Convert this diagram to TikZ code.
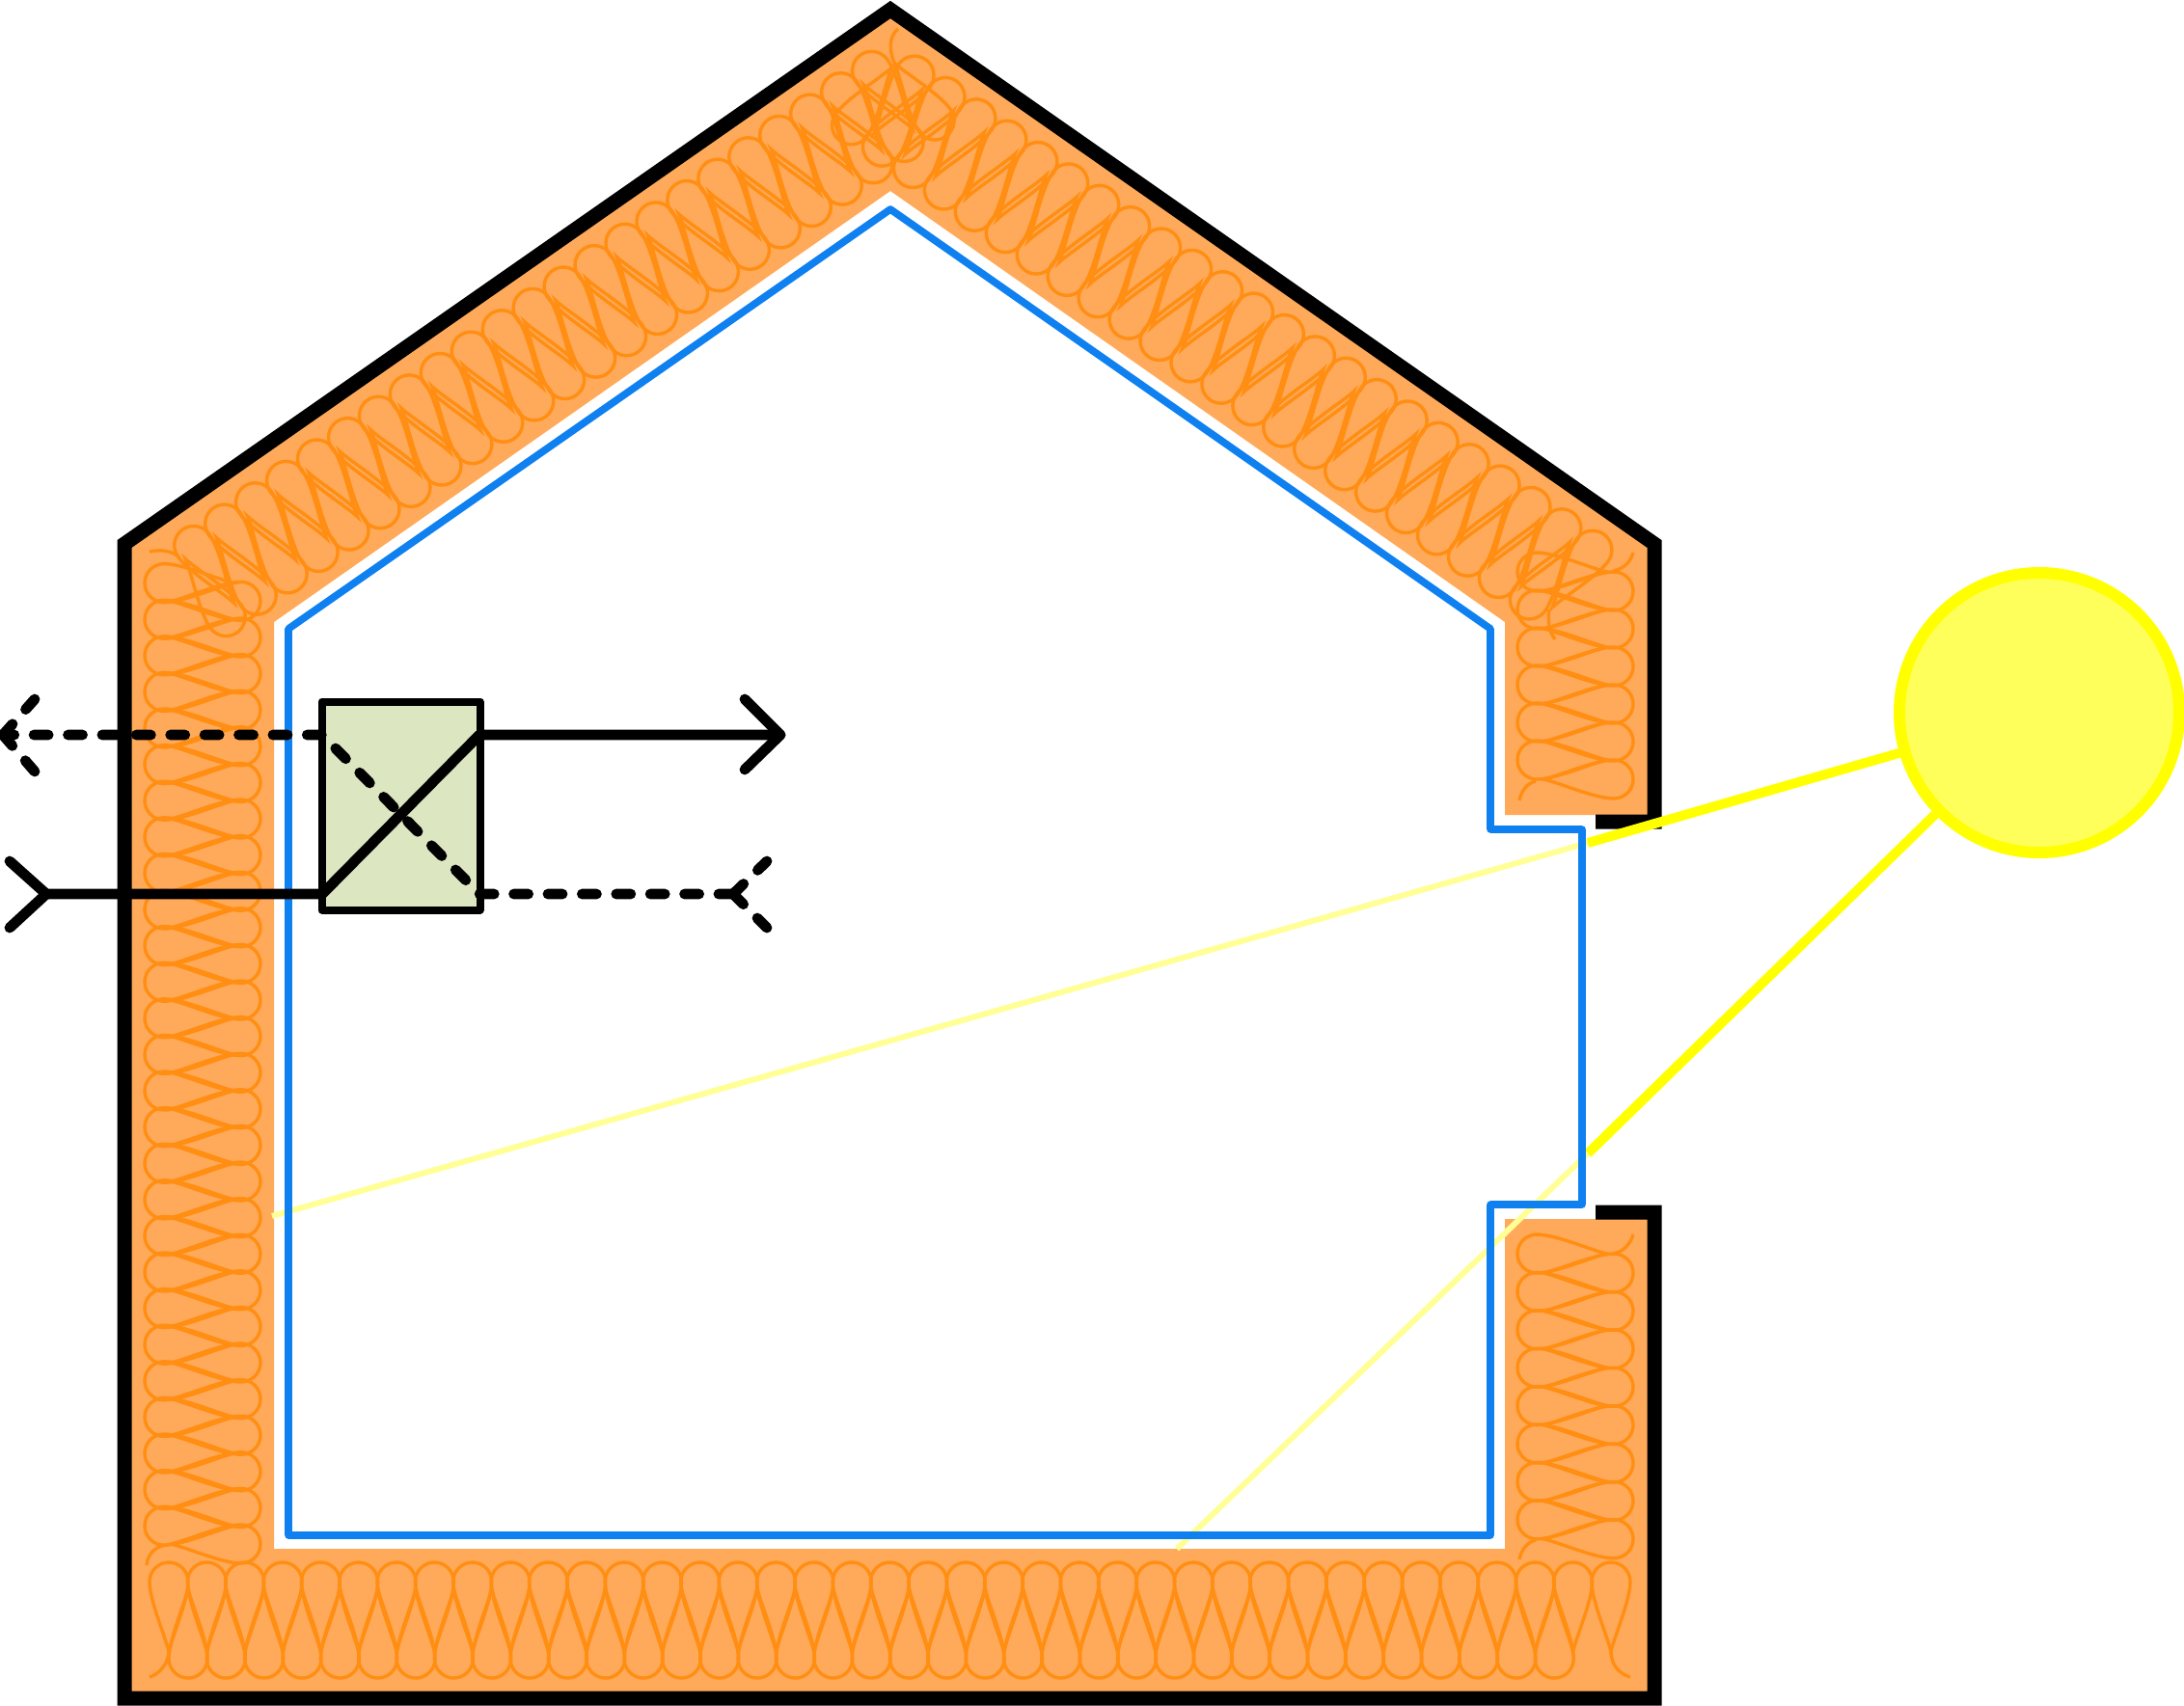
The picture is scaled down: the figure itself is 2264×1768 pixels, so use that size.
\documentclass[tikz,border=0pt]{standalone}
\usepackage{tikz}

\definecolor{wool}{RGB}{255,170,90}
\definecolor{woolline}{RGB}{255,142,18}
\definecolor{barrier}{RGB}{15,128,240}
\definecolor{unit}{RGB}{220,230,192}
\definecolor{sunfill}{RGB}{255,255,92}
\definecolor{sunline}{RGB}{255,255,0}
\definecolor{paleray}{RGB}{255,255,150}

\tikzset{
	lobe/.style={draw=woolline,line width=1.7pt},
	air/.style={line width=5.4pt,line cap=round,line join=round},
	airdash/.style={air,dash pattern=on 7.5pt off 10.2pt},
	ray/.style={sunline,line width=5pt},
	weakray/.style={paleray,line width=3pt}
}

%row of insulation lobes: scope options, pitch, indices
\newcommand{\lobes}[3]{
	\begin{scope}[#1]
		\foreach \k in {#3}
			\draw[lobe,shift={(\k*#2,0)}] (0,-33) .. controls (3,-18) and (20,20) .. (20,40)
				.. controls (20,51) and (11,60) .. (0,60)
				.. controls (-11,60) and (-20,51) .. (-20,40)
				.. controls (-20,20) and (-3,-18) .. (0,-33) -- cycle;
	\end{scope}
}

\begin{document}
\begin{tikzpicture}[x=.5pt,y=-.5pt]
		\useasboundingbox (0,0) rectangle (2264,1768);

		%insulation
		\fill[wool] (136,568) -- (923,18) -- (1708,568) -- (1708,845) -- (1560,845) -- (1560,645)
			-- (923,198) -- (284,645) -- (284,1606) -- (1560,1606) -- (1560,1264) -- (1708,1264)
			-- (1708,1754) -- (136,1754) -- cycle;

		%outer wall
		\draw[line width=7.5pt,miter limit=10] (1654,852) -- (1715,852) -- (1715,564) -- (923,10) -- (129,564)
			-- (129,1761) -- (1715,1761) -- (1715,1257) -- (1654,1257);

		%left wall
		\lobes{shift={(210,604.6)},rotate=-90}{37.6}{0,...,26}
		\lobes{shift={(210,623.4)},rotate=-90,yscale=-1}{37.6}{0,...,26}

		%bottom
		\lobes{shift={(175,1680)},yscale=-1}{39.34}{0,...,38}
		\lobes{shift={(195,1680)}}{39.34}{0,...,36}

		%right wall
		\lobes{shift={(1633,593)},rotate=-90}{39}{0,...,5}
		\lobes{shift={(1633,613)},rotate=-90,yscale=-1}{39}{0,...,5}
		\lobes{shift={(1633,1300)},rotate=-90}{39.4}{0,...,7}
		\lobes{shift={(1633,1320)},rotate=-90,yscale=-1}{39.4}{0,...,7}

		%roof
		\lobes{shift={(521,390)},rotate=35,shift={(-12,0)},yscale=-1}{39}{-9,...,13}
		\lobes{shift={(521,390)},rotate=35,shift={(12,0)}}{39}{-10,...,13}
		\lobes{shift={(1266.7,350)},rotate=-35,shift={(12,0)},yscale=-1}{39}{-11,...,11}
		\lobes{shift={(1266.7,350)},rotate=-35,shift={(-12,0)}}{39}{-11,...,11}

		%loose ends
		\draw[lobe] (155,1739) .. controls (165,1736) and (175,1725) .. (175,1712);
		\draw[lobe] (1690,1739) .. controls (1680,1736) and (1670,1728) .. (1670,1712);
		\draw[lobe] (155,572) .. controls (168,569) and (180,572) .. (186,578);
		\draw[lobe] (152,1623) .. controls (153,1612) and (160,1604) .. (172,1602);
		\draw[lobe] (1575,830) .. controls (1577,820) and (1583,812) .. (1592,810);
		\draw[lobe] (1693,573) .. controls (1690,583) and (1683,590) .. (1672,592);
		\draw[lobe] (1693,1280) .. controls (1690,1290) and (1683,1298) .. (1672,1300);
		\draw[lobe] (1575,1617) .. controls (1577,1607) and (1583,1599) .. (1592,1597);
		\draw[lobe] (1612,663) .. controls (1606,655) and (1604,645) .. (1606,632);
		\draw[lobe] (931,30) .. controls (922,37) and (921,50) .. (927,65);

		%sun and rays
		\node[circle,draw=sunline,fill=sunfill,line width=6pt,minimum size=145pt,inner sep=0pt] (sun) at (2114,739) {};
		\coordinate (winhigh) at (1646,874);
		\coordinate (winlow) at (1646,1196);
		\coordinate (hitwall) at (282,1261);
		\coordinate (hitfloor) at (1220,1606);
		\draw[ray] (sun) -- (winhigh);
		\draw[ray] (sun) -- (winlow);
		\draw[weakray] (winhigh) -- (hitwall);
		\draw[weakray] (winlow) -- (hitfloor);

		%airtight layer
		\draw[barrier,line width=3.8pt,line join=round] (299,652) -- (923,217) -- (1545,652) -- (1545,860) -- (1640,860)
			-- (1640,1249) -- (1545,1249) -- (1545,1592) -- (299,1592) -- cycle;

		%heat exchanger
		\node[draw,fill=unit,line width=4pt,line join=round,minimum width=82pt,minimum height=108pt,inner sep=0pt] (hrv) at (415.5,835.5) {};
		\coordinate (supin) at (48,927);
		\coordinate (supcross) at (334,927);
		\coordinate (supmid) at (497,762);
		\coordinate (supout) at (809,762);
		\coordinate (exhin) at (760,927);
		\coordinate (exhmid) at (497,927);
		\coordinate (exhcross) at (334,762);
		\coordinate (exhout) at (3,762);

		%supply air
		\draw[air] (supin) -- (supcross) -- (supmid) -- (supout);
		\draw[air] (10,893) -- (supin) -- (10,962);
		\draw[air] (772,725) -- (supout) -- (772,798);

		%extract air
		\draw[airdash] (exhin) -- (exhmid) -- (exhcross) -- (exhout);
		\draw[airdash] (exhin) -- (795,893);
		\draw[airdash] (exhin) -- (795,962);
		\draw[airdash] (exhout) -- (36,725);
		\draw[airdash] (exhout) -- (36,800);
\end{tikzpicture}
\end{document}
